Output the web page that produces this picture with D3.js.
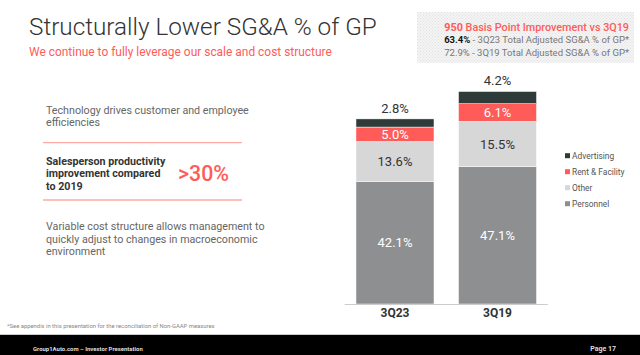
<!DOCTYPE html>
<html><head><meta charset="utf-8">
<script src="https://cdn.jsdelivr.net/npm/d3@7"></script>
<style>
html,body{margin:0;padding:0;background:#fff;}
svg{display:block;font-family:Roboto,"Noto Sans",sans-serif;}
</style></head>
<body><svg id="c" width="640" height="355"></svg>
<script>
const categories = ["3Q23", "3Q19"];
const seriesNames = ["Personnel", "Other", "Rent & Facility", "Advertising"];
const personnel = [42.1, 47.1];
const other = [13.6, 15.5];
const rent = [5.0, 6.1];
const advertising = [2.8, 4.2];
const legendOrder = ["Advertising", "Rent & Facility", "Other", "Personnel"];
const colors = {"Personnel":"#8d8f91","Other":"#d7d7d7","Rent & Facility":"#ff5b59","Advertising":"#2e3b39"};
const labelColors = {"Personnel":"#fff","Other":"#333","Rent & Facility":"#fff","Advertising":"#333"};

const data = categories.map((c,i)=>({cat:c,"Personnel":personnel[i],"Other":other[i],"Rent & Facility":rent[i],"Advertising":advertising[i]}));
const stack = d3.stack().keys(seriesNames)(data);

const svg = d3.select("#c");

// hatched pattern
const defs = svg.append("defs");
const pat = defs.append("pattern").attr("id","hatch").attr("width",3).attr("height",3).attr("patternUnits","userSpaceOnUse");
pat.append("rect").attr("width",3).attr("height",3).attr("fill","#f4f4f4");
pat.append("rect").attr("width",1).attr("height",1).attr("fill","#e2e2e2");
pat.append("rect").attr("x",1.5).attr("y",1.5).attr("width",1).attr("height",1).attr("fill","#e2e2e2");

// fit helper
function fit(sel, w){ const n=sel.node(); const L=n.getComputedTextLength(); const fs=+sel.attr("font-size"); sel.attr("font-size", fs*w/L); }

// Title
fit(svg.append("text").attr("x",29).attr("y",35).attr("font-size",25).attr("font-weight",300).attr("fill","#333")
  .text("Structurally Lower SG&A % of GP"), 348);
fit(svg.append("text").attr("x",29).attr("y",56).attr("font-size",13).attr("fill","#ff5b59")
  .text("We continue to fully leverage our scale and cost structure"), 303);

// top-right box
svg.append("rect").attr("x",417).attr("y",12).attr("width",217).attr("height",51).attr("fill","url(#hatch)");
const t1 = svg.append("text").attr("x",629).attr("y",30.5).attr("text-anchor","end").attr("font-size",11).attr("fill","#ff5b59");
t1.append("tspan").attr("font-weight",700).text("950");
t1.append("tspan").attr("font-weight",500).text(" Basis Point Improvement vs 3Q19");
fit(t1,185);
const t2 = svg.append("text").attr("x",629).attr("y",43).attr("text-anchor","end").attr("font-size",9.6).attr("fill","#777");
t2.append("tspan").attr("font-weight",700).attr("fill","#111").text("63.4%");
t2.append("tspan").text(" - 3Q23 Total Adjusted SG&A % of GP*");
fit(t2,185);
fit(svg.append("text").attr("x",629).attr("y",55.5).attr("text-anchor","end").attr("font-size",9.6).attr("fill","#777")
  .text("72.9% - 3Q19 Total Adjusted SG&A % of GP*"),185);

// left text
const left = svg.append("g").attr("font-size",10.7);
[["Technology drives customer and employee",113.5],["efficiencies",126]].forEach(([t,y])=>
  left.append("text").attr("x",46).attr("y",y).attr("fill","#666").text(t));
[["Salesperson productivity",164.5],["improvement compared",177],["to 2019",189.5]].forEach(([t,y])=>
  left.append("text").attr("x",46).attr("y",y).attr("fill","#333").attr("font-weight",700).text(t));
[["Variable cost structure allows management to",230],["quickly adjust to changes in macroeconomic",242.5],["environment",255]].forEach(([t,y])=>
  left.append("text").attr("x",46).attr("y",y).attr("fill","#666").text(t));
fit(svg.append("text").attr("x",178).attr("y",180.5).attr("font-size",21.5).attr("font-weight",500).attr("fill","#ff5b59").text(">30%"),51);
[142.7,200].forEach(y=>svg.append("line").attr("x1",43).attr("x2",242).attr("y1",y).attr("y2",y).attr("stroke","#ffaaa5").attr("stroke-width",1.3));

// chart
const x = d3.scaleBand().domain(categories).range([344.7,547.8]).paddingInner(0.239).paddingOuter(0.11);
const y = d3.scaleLinear().domain([0,100]).range([304,12.5]);

const layers = svg.append("g").selectAll("g").data(stack).join("g").attr("fill",d=>colors[d.key]);
layers.selectAll("rect").data(d=>d.map(v=>Object.assign(v,{key:d.key}))).join("rect")
  .attr("x",d=>x(d.data.cat)).attr("width",x.bandwidth())
  .attr("y",d=>y(d[1])).attr("height",d=>y(d[0])-y(d[1]))
  .attr("stroke","#fff").attr("stroke-width",0.5);

// labels
stack.forEach(layer=>{
  layer.forEach(d=>{
    const val = d[1]-d[0];
    const cx = x(d.data.cat)+x.bandwidth()/2;
    let yy, col = labelColors[layer.key];
    if(layer.key==="Advertising"){ yy = y(d[1]) - 6; }
    else { yy = (y(d[0])+y(d[1]))/2 + 4.5; }
    svg.append("text").attr("x",cx).attr("y",yy).attr("text-anchor","middle").attr("font-size",13)
      .attr("fill",col).text(val.toFixed(1)+"%");
  });
});

// axis
const xAxis = svg.append("g").attr("transform","translate(0,304)").call(d3.axisBottom(x).tickSize(0).tickPadding(4));
xAxis.select(".domain").attr("stroke","#ccc").attr("d","M344.7,0.5H547.8");
xAxis.selectAll("text").attr("font-size",12).attr("font-weight",700).attr("fill","#333").attr("font-family","Roboto,sans-serif");

// legend
const lg = svg.append("g").attr("font-size",8.4);
legendOrder.forEach((k,i)=>{
  const yy = 155.7 + i*16;
  lg.append("rect").attr("x",565).attr("y",yy-2.5).attr("width",5).attr("height",5).attr("fill",colors[k]);
  lg.append("text").attr("x",572).attr("y",yy+3).attr("fill","#555").text(k);
});

// footnote
fit(svg.append("text").attr("x",7).attr("y",327.5).attr("font-size",6).attr("fill","#888")
  .text("*See appendix in this presentation for the reconciliation of Non-GAAP measures"),208);

// footer
svg.append("rect").attr("x",0).attr("y",334).attr("width",640).attr("height",1).attr("fill","#ccc");
svg.append("rect").attr("x",0).attr("y",335).attr("width",640).attr("height",20).attr("fill","#000");
fit(svg.append("text").attr("x",33).attr("y",351).attr("font-size",7).attr("font-weight",700).attr("fill","#ddd")
  .text("Group1Auto.com – Investor Presentation"),110);
svg.append("text").attr("x",616).attr("y",351).attr("text-anchor","end").attr("font-size",7).attr("font-weight",700).attr("fill","#ddd")
  .text("Page 17");
</script></body></html>
